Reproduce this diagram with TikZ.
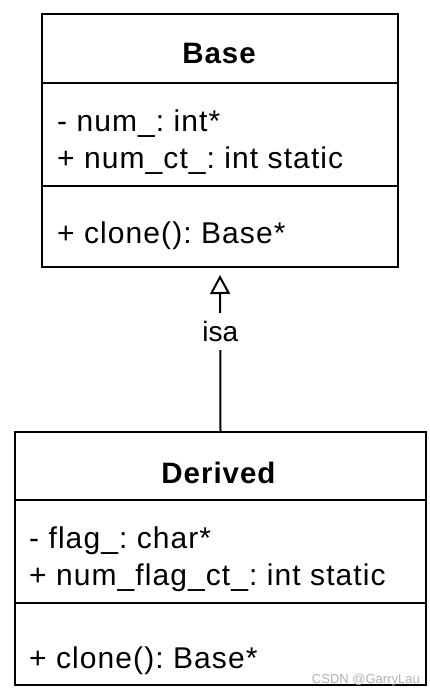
\documentclass[tikz,border=0pt]{standalone}
\usepackage{fontspec}
\setmainfont{Liberation Sans}
\newfontfamily\memberfont[LetterSpace=3.3]{Liberation Sans}
\newfontfamily\attrfont[LetterSpace=3.6]{Liberation Sans}
\usetikzlibrary{arrows.meta}
\frenchspacing
\tikzset{
  classbox/.style={draw=black, line width=2pt, fill=white, inner sep=0pt, anchor=north west},
  sepline/.style={draw=black, line width=2pt},
  titletext/.style={inner sep=0pt, anchor=base, font=\memberfont\fontsize{29.5}{34}\selectfont\bfseries},
  membertext/.style={inner sep=0pt, anchor=base west, font=\attrfont\fontsize{30}{34}\selectfont},
  isaarrow/.style={draw=black, line width=2pt, -{Triangle[open, length=19pt, width=20pt, line width=2pt]}, shorten >=7pt},
  isalabel/.style={fill=white, inner sep=0pt, minimum height=37pt, font=\fontsize{28}{34}\selectfont},
  wmtext/.style={inner sep=0pt, anchor=base east, text=black!30, font=\fontsize{13}{15}\selectfont}
}
\begin{document}
\begin{tikzpicture}[x=1pt, y=-1pt]
\useasboundingbox (0,0) rectangle (430,696);
% Base class
\node[classbox, minimum width=356pt, minimum height=253pt] (base) at (41,13) {};
\draw[sepline] ([yshift=-70pt]base.north west) -- ([yshift=-70pt]base.north east);
\draw[sepline] ([yshift=-173pt]base.north west) -- ([yshift=-173pt]base.north east);
\node[titletext] (basetitle) at (219,63) {Base};
\node[membertext] (basea1) at (57,131) {- num\_: int*};
\node[membertext] (basea2) at (57,168) {+ num\_ct\_: int static};
\node[membertext] (basem1) at (57,243) {+ clone(): Base*};
% Derived class
\node[classbox, minimum width=411pt, minimum height=253pt] (derived) at (14,431) {};
\draw[sepline] ([yshift=-69pt]derived.north west) -- ([yshift=-69pt]derived.north east);
\draw[sepline] ([yshift=-172pt]derived.north west) -- ([yshift=-172pt]derived.north east);
\node[titletext] (dertitle) at (218.5,483) {Derived};
\node[membertext] (dera1) at (29,548) {- flag\_: char*};
\node[membertext] (dera2) at (29,585) {+ num\_flag\_ct\_: int static};
\node[membertext] (derm1) at (29,668) {+ clone(): Base*};
% generalisation
\draw[isaarrow] (derived.north) -- node[isalabel, pos=0.609] (isa) {isa} (base.south);
% watermark
\node[wmtext] (wm) at (420,683) {CSDN @GarryLau};
\end{tikzpicture}
\end{document}
